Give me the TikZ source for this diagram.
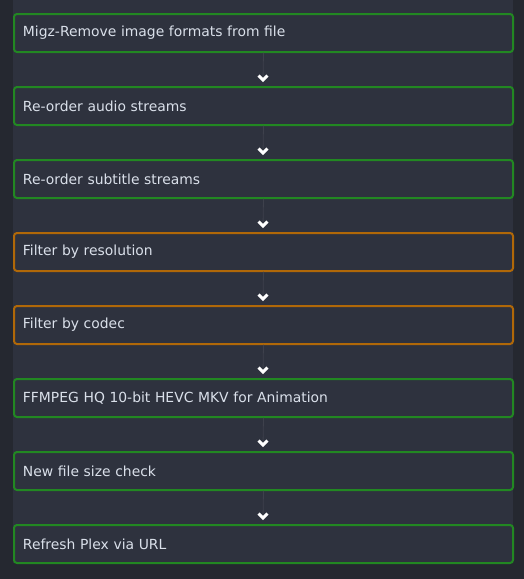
\documentclass[tikz,border=0pt]{standalone}
\usepackage{fontspec}
\setmainfont{DejaVu Sans}
\definecolor{outerbg}{RGB}{37,40,48}
\definecolor{panelbg}{RGB}{46,50,62}
\definecolor{okgreen}{RGB}{34,136,34}
\definecolor{warnorange}{RGB}{176,104,8}
\definecolor{labeltxt}{RGB}{218,224,234}
\definecolor{linkgray}{RGB}{62,65,76}
\tikzset{
  plugbox/.style={draw=#1, line width=2pt, rounded corners=3pt, fill=panelbg,
    minimum width=499pt, minimum height=38pt, text width=481pt, align=left,
    inner xsep=9pt, inner ysep=0pt, text=labeltxt, anchor=north west},
  chevron/.style={draw=white, line width=3pt, line cap=butt, line join=miter}
}
\begin{document}
\begin{tikzpicture}[x=1pt, y=-1pt, font=\fontsize{13.9}{16}\selectfont, line join=round, line cap=round]
\useasboundingbox (0,0) rectangle (524,579);
\fill[outerbg] (0,0) rectangle (524,579);
\fill[panelbg] (13,0) rectangle (513,563);
% plugin stack
\foreach \i/\t/\c in {0/Migz-Remove image formats from file/okgreen,
  1/Re-order audio streams/okgreen, 2/Re-order subtitle streams/okgreen,
  3/Filter by resolution/warnorange, 4/Filter by codec/warnorange,
  5/FFMPEG HQ 10-bit HEVC MKV for Animation/okgreen,
  6/New file size check/okgreen, 7/Refresh Plex via URL/okgreen}
  {\node[plugbox=\c] (b\i) at (13,13+73*\i) {\t};}
% links with chevrons
\foreach \i in {0,...,6} {
  \coordinate (v\i) at (263,80+73*\i);
  \draw[linkgray, line width=0.8pt] (b\i.south) -- (v\i);
  \draw[chevron] (v\i)+(-4.5,-4.5) -- (v\i) -- +(4.5,-4.5);
}
\end{tikzpicture}
\end{document}
